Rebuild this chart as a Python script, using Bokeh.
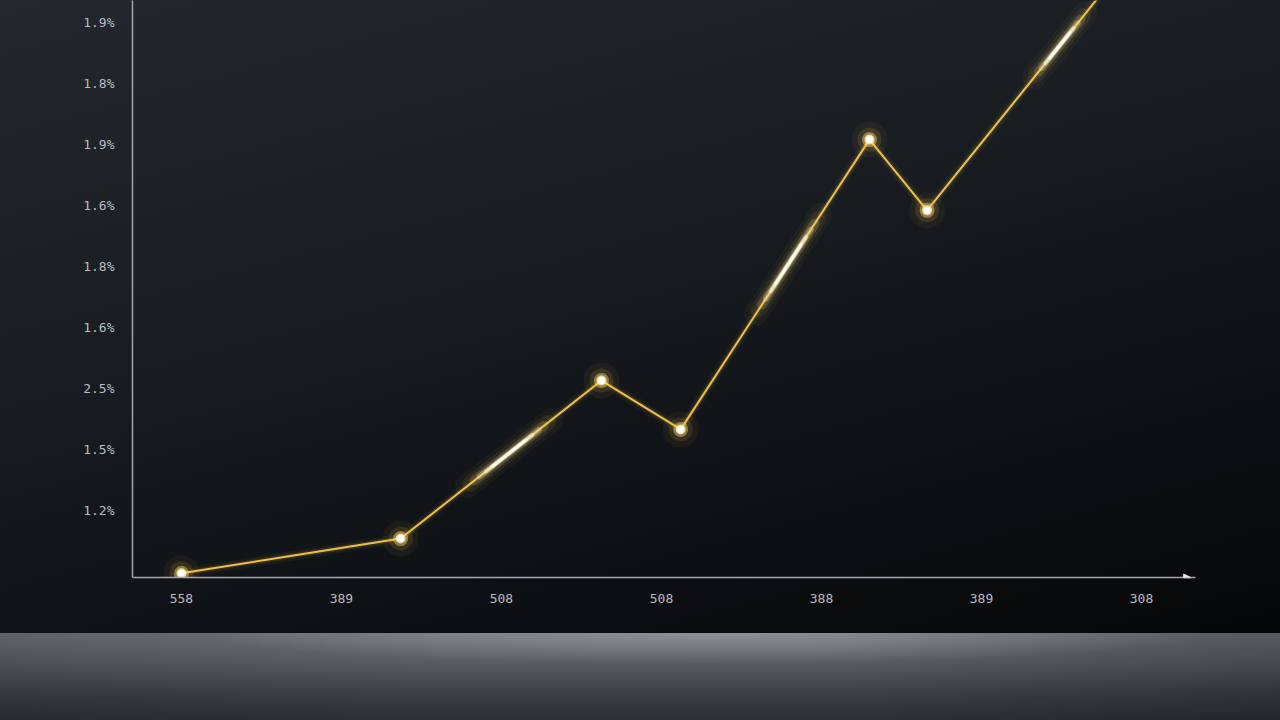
from bokeh.plotting import figure
from bokeh.models import Range1d, FixedTicker, Arrow, NormalHead, Div, ColumnDataSource
from bokeh.layouts import column
from bokeh.embed import file_html
from bokeh.resources import INLINE

# ---- data ----
x_ticks = [0, 1, 2, 3, 4, 5, 6]
x_labels = ["558", "389", "508", "508", "388", "389", "308"]
y_ticks = [1, 2, 3, 4, 5, 6, 7, 8, 9]
y_labels = ["1.2%", "1.5%", "2.5%", "1.6%", "1.8%", "1.6%", "1.9%", "1.8%", "1.9%"]

xs = [0.0, 1.37, 2.625, 3.12, 4.3, 4.66, 5.81]
ys = [-0.03, 0.54, 3.13, 2.33, 7.08, 5.92, 9.67]

# highlight streaks: (segment index, start fraction, end fraction)
streaks = [(1, 0.33, 0.75), (3, 0.40, 0.74), (5, 0.58, 0.86)]

GOLD = "#eebf4a"
LABEL = "#b8bdc2"
AXIS = "#a2a7ac"

p = figure(width=1280, height=633, output_backend="svg", toolbar_location=None,
           x_range=Range1d(-0.306, 6.3375), y_range=Range1d(-0.098, 9.36),
           min_border_left=132, min_border_right=85, min_border_top=0,
           min_border_bottom=56)
p.background_fill_alpha = 0
p.border_fill_alpha = 0
p.outline_line_color = None
p.grid.visible = False
p.styles = {"background": "linear-gradient(165deg, #22282d 0%, #181d21 40%, #0d1013 75%, #050607 100%)"}

for ax in (p.xaxis[0], p.yaxis[0]):
    ax.axis_line_color = AXIS
    ax.axis_line_width = 1.5
    ax.major_tick_line_color = None
    ax.minor_tick_line_color = None
    ax.major_label_text_color = LABEL
    ax.major_label_text_font = "DejaVu Sans Mono"
    ax.major_label_text_font_size = "13px"

p.xaxis.ticker = FixedTicker(ticks=x_ticks)
p.xaxis.major_label_overrides = {t: l for t, l in zip(x_ticks, x_labels)}
p.xaxis.major_label_standoff = 10
p.yaxis.ticker = FixedTicker(ticks=y_ticks)
p.yaxis.major_label_overrides = {t: l for t, l in zip(y_ticks, y_labels)}
p.yaxis.major_label_standoff = 12

# arrow head at end of x axis
xr, yr = p.x_range, p.y_range
p.add_layout(Arrow(end=NormalHead(size=7, fill_color="#e8eaec", line_color="#e8eaec"),
                   x_start=xr.end - 0.08, y_start=yr.start, x_end=xr.end - 0.03, y_end=yr.start,
                   line_color="#e8eaec", line_width=1.5))

src = ColumnDataSource(dict(x=xs, y=ys))

# glowing line
p.line("x", "y", source=src, line_color=GOLD, line_width=10, line_alpha=0.05)
p.line("x", "y", source=src, line_color=GOLD, line_width=5, line_alpha=0.12)
p.line("x", "y", source=src, line_color=GOLD, line_width=2.0, line_alpha=1.0)

# streak highlights
for (i, t0, t1) in streaks:
    x0, y0, x1, y1 = xs[i], ys[i], xs[i + 1], ys[i + 1]

    def pt(t):
        return x0 + (x1 - x0) * t, y0 + (y1 - y0) * t
    tm = (t0 + t1) / 2
    for w, a, c, shrink in [(24, 0.04, "#ffd36a", 0.0), (16, 0.07, "#ffd36a", 0.08),
                            (10, 0.14, "#ffe08a", 0.18), (6, 0.30, "#ffecb8", 0.3),
                            (4, 0.6, "#fff6dc", 0.45), (3, 0.9, "#fffdf6", 0.6)]:
        h = (t1 - t0) / 2 * (1 - shrink)
        a0, a1 = pt(tm - h), pt(tm + h)
        p.line([a0[0], a1[0]], [a0[1], a1[1]], line_color=c, line_width=w, line_alpha=a, line_cap="round")

# glowing points
p.scatter("x", "y", source=src, size=36, fill_color="#ffc94a", fill_alpha=0.05, line_color=None)
p.scatter("x", "y", source=src, size=24, fill_color="#ffc94a", fill_alpha=0.12, line_color=None)
p.scatter("x", "y", source=src, size=15, fill_color="#ffd866", fill_alpha=0.45, line_color=None)
p.scatter("x", "y", source=src, size=10, fill_color="#fff0c0", fill_alpha=0.8, line_color=None)
p.scatter("x", "y", source=src, size=7, fill_color="#ffffff", fill_alpha=1.0, line_color=None)

floor = Div(width=1280, height=87, margin=0, styles={
    "background": "radial-gradient(ellipse 40% 35% at 55% 0%, rgba(170,176,181,0.5) 0%, rgba(0,0,0,0) 100%), "
                  "linear-gradient(90deg, rgba(0,0,0,0.12) 0%, rgba(0,0,0,0) 35%, rgba(0,0,0,0) 65%, rgba(0,0,0,0.2) 100%), "
                  "linear-gradient(180deg, #6c7276 0%, #565c60 35%, #3b4044 70%, #2b2f33 100%)"})

layout = column(p, floor, spacing=0)

open("out.html", "w").write(file_html(layout, INLINE))
